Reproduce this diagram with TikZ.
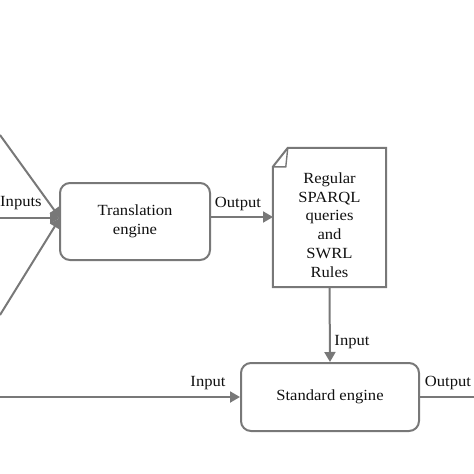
\documentclass[tikz,border=0pt]{standalone}
\usepackage{fontspec}
\setmainfont{Liberation Serif}[FakeStretch=1.07]
\usetikzlibrary{arrows.meta}
\definecolor{linegray}{HTML}{787878}
\definecolor{txt}{HTML}{111111}
\tikzset{
  engine/.style={draw=linegray, line width=2pt, rounded corners=10pt, fill=white, inner sep=0pt, text=txt, align=center, font=\fontsize{15.5}{19}\selectfont},
  conn/.style={draw=linegray, line width=2pt, -{Triangle[length=10pt,width=11pt]}, color=linegray},
  plain/.style={draw=linegray, line width=2pt},
  lbl/.style={text=txt, font=\fontsize{15.5}{19}\selectfont, inner sep=0pt},
}
\begin{document}
\begin{tikzpicture}[x=1pt,y=-1pt]
\useasboundingbox (0,0) rectangle (474,474);
% Translation engine
\node[engine, minimum width=150pt, minimum height=77pt] (trans) at (135,221.5) {Translation\\engine};
% Standard engine
\node[engine, minimum width=178pt, minimum height=68pt] (std) at (330,397) {Standard engine};
% Document
\node[minimum width=113pt, minimum height=139pt, inner sep=0pt] (doc) at (329.5,217.5) {};
\draw[plain, line join=miter] ([xshift=15pt]doc.north west) -- (doc.north east) -- (doc.south east) -- (doc.south west) -- ([yshift=-19pt]doc.north west) -- cycle;
\draw[plain, line width=1.4pt, line join=miter] ([xshift=15pt]doc.north west) -- ([xshift=13pt,yshift=-19pt]doc.north west) -- ([yshift=-19pt]doc.north west);
\node[lbl, align=center, font=\fontsize{15.5}{18.8}\selectfont] (doctext) at (329.5,225) {Regular\\SPARQL\\queries\\and\\SWRL\\Rules};
% Inputs
\coordinate (tip) at (60,218);
\coordinate (intop) at (0,135);
\coordinate (inmid) at (0,218);
\coordinate (inbot) at (0,315);
\draw[conn] (intop) -- (tip);
\draw[conn] (inmid) -- (tip);
\draw[conn] (inbot) -- (tip);
\node[lbl, anchor=west] (inputs) at (0,203) {Inputs};
% Output to document
\coordinate (outa) at (210,217);
\coordinate (outb) at (273,217);
\draw[conn] (outa) -- (outb);
\node[lbl] (out1) at (238,204) {Output};
% doc to std
\draw[conn] (doc.south) -- (std.north);
\node[lbl] (in2) at (352,342) {Input};
% left input to std
\coordinate (stdin) at (0,397);
\draw[conn] (stdin) -- (std.west);
\node[lbl] (in3) at (208,383) {Input};
% output from std
\coordinate (stdout) at (474,397);
\draw[plain] (std.east) -- (stdout);
\node[lbl] (out2) at (448,383) {Output};
\end{tikzpicture}
\end{document}
